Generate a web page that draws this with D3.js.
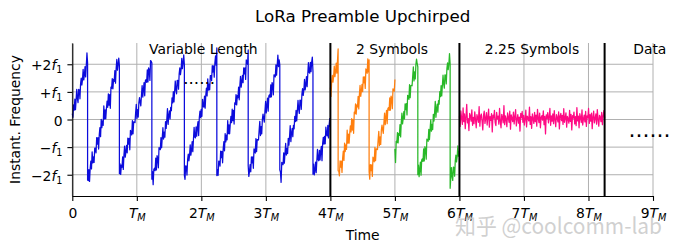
<!DOCTYPE html>
<html><head><meta charset="utf-8">
<script src="https://cdn.jsdelivr.net/npm/d3@7"></script>
<style>
html,body{margin:0;padding:0;background:#fff;}
svg{display:block;}
</style></head><body>
<svg id="chart" width="677" height="252"></svg>
<script>
// ---------------- data ----------------
const xTickValues = [0, 1, 2, 3, 4, 5, 6, 7, 8, 9];
const xTickLabels = ["0", "T_M", "2T_M", "3T_M", "4T_M", "5T_M", "6T_M", "7T_M", "8T_M", "9T_M"];
const yTickValues = [-2, -1, 0, 1, 2];
const yTickLabels = ["−2f_1", "−f_1", "0", "+f_1", "+2f_1"];

// chirp sweeps: [tStart, tEnd, fStart, fEnd]  (time in T_M, frequency in f1)
const blueSegments = [
  [0.00, 0.237, 0.15, 2.05],
  [0.237, 0.73, -2.2, 2.15],
  [0.73, 1.233, -2.0, 2.1],
  [1.233, 1.737, -2.2, 2.25],
  [1.737, 2.24, -2.0, 2.25],
  [2.24, 2.726, -1.95, 2.2],
  [2.726, 3.216, -2.05, 2.2],
  [3.216, 3.73, -2.0, 2.2],
  [3.73, 4.0, -2.0, -0.15]
];
const orangeSegments = [
  [4.0, 4.12, 1.1, 2.12],
  [4.12, 4.60, -2.05, 2.05],
  [4.60, 5.0, -2.05, 1.15]
];
const greenSegments = [
  [5.0, 5.355, -1.15, 2.12],
  [5.355, 5.856, -2.1, 2.15],
  [5.856, 5.995, -2.3, -1.1]
];
const chirpJitter = [
  0.06,-0.15,0.22,-0.05,0.27,-0.19,0.1,0.39,-0.02,-0.25,0.15,0.05,-0.35,0.12,0.24,-0.09,0.02,0.32,-0.14,-0.04,
  0.18,-0.27,0.09,0.44,0.0,-0.11,0.2,-0.22,0.04,0.14,-0.45,0.11,0.26,-0.06,0.16,-0.18,0.35,0.01,-0.1,0.21,
  -0.31,0.08,0.25,-0.12,0.41,-0.08,0.05,-0.24,0.19,0.1,-0.16,0.3,-0.02,0.12,-0.38,0.06,0.22,-0.2,0.34,-0.05,
  0.11,-0.14,0.47,-0.09,0.15,-0.26,0.02,0.2,-0.11,0.29,-0.21,0.08,-0.5,0.18,0.04,0.31,-0.15,0.1,-0.06,0.24,
  -0.3,0.14,0.38,-0.1,0.0,0.16,-0.19,0.26,-0.04,0.09,-0.41,0.21,0.05,-0.12,0.32,-0.24,0.11,0.02,-0.08,0.19,
  0.42,-0.18,0.06,-0.29,0.15,0.25,-0.01,-0.21,0.1,0.36,-0.14,0.04,0.22,-0.34,0.12,0.08,-0.1,0.27,-0.25,0.18,
  0.01,-0.44,0.2,0.09,-0.05,0.3,-0.16,0.12,0.39,-0.11,0.05,-0.22,0.25,-0.08,0.15,0.46,-0.2,0.02,0.11,-0.27
];
// noise-like segment (pink) from 6 T_M to 8.25 T_M
const pinkSpan = [6.0, 8.25];
const pinkNoise = [
  0.12,-0.25,0.31,0.05,-0.18,0.42,-0.08,0.2,-0.33,0.1,0.55,-0.12,0.03,-0.4,0.22,0.14,-0.06,0.35,-0.21,0.08,
  -0.15,0.28,0.0,-0.3,0.18,0.06,-0.1,0.47,-0.24,0.12,0.2,-0.05,-0.38,0.15,0.3,-0.14,0.04,0.25,-0.2,0.09,
  0.38,-0.28,0.1,-0.03,0.21,-0.45,0.16,0.05,0.33,-0.11,-0.22,0.26,0.02,0.12,-0.17,0.4,-0.07,-0.3,0.19,0.07,
  -0.12,0.5,-0.19,0.13,0.01,-0.26,0.24,0.08,-0.1,0.3,-0.35,0.17,0.04,-0.08,0.27,-0.16,0.11,0.36,-0.23,0.0,
  0.18,-0.13,0.09,-0.42,0.22,0.06,0.29,-0.1,0.15,-0.2,0.03,0.34,-0.27,0.12,0.07,-0.05,0.45,-0.18,0.1,-0.32,
  0.2,0.02,-0.14,0.26,-0.08,0.16,-0.24,0.37,0.05,-0.11,0.23,-0.3,0.08,0.14,-0.02,0.31,-0.19,0.11,-0.52,0.17,
  0.04,0.25,-0.12,0.09,0.4,-0.21,0.13,-0.06,0.2,-0.15,0.32,0.0,-0.26,0.18,0.07,-0.09,0.28,-0.34,0.12,0.22,
  -0.04,0.15,-0.18,0.39,-0.1,0.06,0.24,-0.28,0.11,0.03,-0.13,0.33,-0.07,0.19,-0.38,0.14,0.05,0.27,-0.16,0.1,
  -0.22,0.43,-0.05,0.12,-0.3,0.21,0.08,-0.11,0.35,-0.2,0.02,0.16,-0.09,0.29,-0.25,0.13,0.06,0.4,-0.14,0.18,
  -0.06,0.23,-0.33,0.1,0.3,-0.12,0.04,0.2,-0.17,0.36,0.01,-0.24,0.15,0.09,-0.08,0.26,-0.19,0.12,0.32,0.05
];
const boundaries = [4, 6, 8.25];
const sectionLabels = ["Variable Length", "2 Symbols", "2.25 Symbols", "Data"];
const sectionCenters = [2.03, 4.955, 7.125, 8.95];
const ellipsisMarks = [
  { t: 1.72, f: 1.30, size: 16.7 },
  { t: 8.62, f: -0.62, size: 22 }
];
const titleText = "LoRa Preamble Upchirped";
const xLabel = "Time";
const yLabel = "Instant. Frequency";
const watermark = "知乎 @coolcomm-lab";

// ---------------- chart ----------------
const svg = d3.select("#chart");
const FONT = "'DejaVu Sans', sans-serif";
const FS = 13.9;
const x = d3.scaleLinear().domain([0, 9]).range([72.3, 653]);
const y = d3.scaleLinear().domain([-2.77, 2.77]).range([196, 43]);

svg.append("rect").attr("width", 677).attr("height", 252).attr("fill", "#fff");

// grid
const grid = svg.append("g").attr("stroke", "#b0b0b0").attr("stroke-width", 1);
grid.selectAll("line.h").data(yTickValues).join("line")
  .attr("x1", x(0)).attr("x2", x(9)).attr("y1", d => y(d)).attr("y2", d => y(d));
grid.selectAll("line.v").data(xTickValues).join("line")
  .attr("x1", d => x(d)).attr("x2", d => x(d)).attr("y1", y(2.77)).attr("y2", y(-2.77));

// chirp series
function chirpPoints(segs, offset) {
  const pts = [];
  segs.forEach((s, si) => {
    const [t0, t1, f0, f1] = s;
    const n = Math.max(2, Math.round((t1 - t0) / 0.01) + 1);
    for (let k = 0; k < n; k++) {
      const u = k / (n - 1);
      const j = chirpJitter[(offset + si * 37 + k) % chirpJitter.length];
      pts.push([t0 + (t1 - t0) * u, f0 + (f1 - f0) * u + j]);
    }
  });
  return pts;
}
const line = d3.line().x(d => x(d[0])).y(d => y(d[1]));
const series = [
  { pts: chirpPoints(blueSegments, 0), color: "#0c0cdc" },
  { pts: chirpPoints(orangeSegments, 11), color: "#ff7f0e" },
  { pts: chirpPoints(greenSegments, 71), color: "#28b828" },
  { pts: pinkNoise.map((v, i) => [pinkSpan[0] + (pinkSpan[1] - pinkSpan[0]) * i / (pinkNoise.length - 1), v]), color: "#ff0a84" }
];
svg.append("g").selectAll("path").data(series).join("path")
  .attr("d", d => line(d.pts)).attr("fill", "none")
  .attr("stroke", d => d.color).attr("stroke-width", 1.25).attr("stroke-linejoin", "round");

// boundaries
svg.append("g").selectAll("line").data(boundaries).join("line")
  .attr("x1", d => x(d)).attr("x2", d => x(d)).attr("y1", y(2.77)).attr("y2", y(-2.77))
  .attr("stroke", "#000").attr("stroke-width", 2);

// math-style label
function mathLabel(sel, label) {
  const m = label.match(/^([^A-Za-z_]*)([A-Za-z]?)(?:_(\w))?$/);
  sel.text(null);
  if (m[1]) sel.append("tspan").text(m[1]);
  if (m[2]) sel.append("tspan").attr("font-style", "italic").text(m[2]);
  if (m[3]) sel.append("tspan").attr("font-size", (FS * 0.7) + "px").attr("dy", 3)
    .attr("font-style", /\d/.test(m[3]) ? "normal" : "italic").text(m[3]);
}

// axes
const gx = svg.append("g").attr("transform", `translate(0,${y(-2.77)})`)
  .call(d3.axisBottom(x).tickValues(xTickValues).tickSize(4.9).tickSizeOuter(0).tickPadding(0)
    .tickFormat((d, i) => xTickLabels[i]));
const gy = svg.append("g").attr("transform", `translate(${x(0)},0)`)
  .call(d3.axisLeft(y).tickValues(yTickValues).tickSize(4.9).tickSizeOuter(0).tickPadding(4.9)
    .tickFormat((d, i) => yTickLabels[i]));
[gx, gy].forEach(g => {
  g.attr("font-family", FONT).attr("font-size", FS + "px");
  g.selectAll(".domain").attr("stroke", "#000").attr("stroke-width", 1.1);
  g.selectAll(".tick line").attr("stroke", "#000").attr("stroke-width", 1.1);
  g.selectAll(".tick text").attr("fill", "#000");
});
gx.selectAll(".tick text").attr("y", 22.3).attr("dy", 0)
  .each(function (d, i) { mathLabel(d3.select(this), xTickLabels[i]); });
gy.selectAll(".tick text").attr("dy", 0).attr("y", 5.5)
  .each(function (d, i) { mathLabel(d3.select(this), yTickLabels[i]); });

// texts
const txt = svg.append("g").attr("font-family", FONT).attr("fill", "#000");
txt.append("text").attr("x", (x(0) + x(9)) / 2).attr("y", 22).attr("text-anchor", "middle")
  .attr("font-size", "16.7px").text(titleText);
txt.append("text").attr("x", (x(0) + x(9)) / 2).attr("y", 240).attr("text-anchor", "middle")
  .attr("font-size", FS + "px").text(xLabel);
txt.append("text").attr("transform", `translate(19.5,${(y(-2.77) + y(2.77)) / 2}) rotate(-90)`)
  .attr("text-anchor", "middle").attr("font-size", FS + "px").text(yLabel);
txt.selectAll("text.sec").data(sectionLabels).join("text").attr("class", "sec")
  .attr("x", (d, i) => x(sectionCenters[i])).attr("y", 54).attr("text-anchor", "middle")
  .attr("font-size", FS + "px").text(d => d);
txt.selectAll("text.dots").data(ellipsisMarks).join("text").attr("class", "dots")
  .attr("x", d => x(d.t)).attr("y", d => y(d.f)).attr("font-size", d => d.size + "px")
  .text("......");

// watermark (present in the reference image)
svg.append("text").attr("x", 455).attr("y", 234)
  .attr("font-family", "'Noto Sans CJK SC', 'Noto Sans', sans-serif").attr("font-size", "22px")
  .attr("fill", "#c8c8c8").attr("fill-opacity", 0.85)
  .attr("textLength", 207).attr("lengthAdjust", "spacingAndGlyphs")
  .text(watermark);
</script>
</body></html>
